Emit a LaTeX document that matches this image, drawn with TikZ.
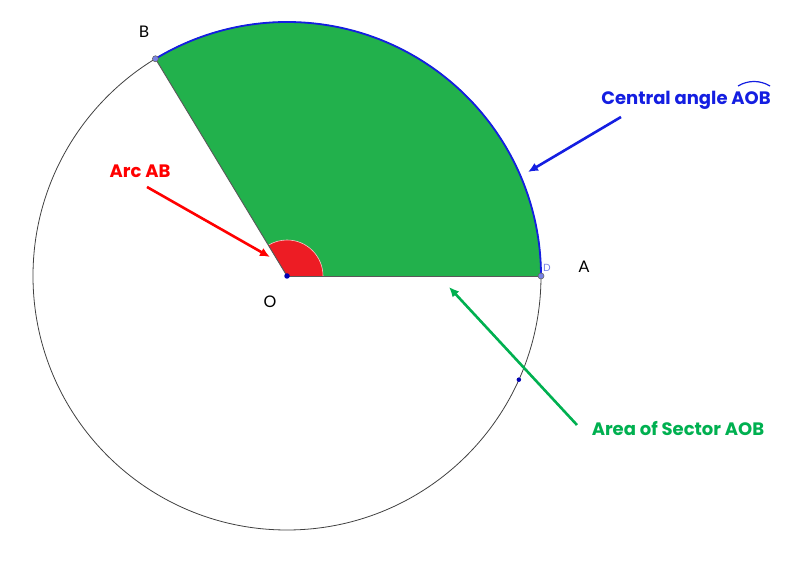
\documentclass[tikz,border=0pt]{standalone}
\usepackage{fontspec}
\setmainfont{Lato}
\newfontfamily\calloutfont{Poppins}
\usetikzlibrary{arrows.meta}

\definecolor{sectorgreen}{RGB}{34,177,76}
\definecolor{anglered}{RGB}{237,28,36}
\definecolor{arcblue}{RGB}{20,30,225}
\definecolor{textgreen}{RGB}{0,176,80}
\definecolor{ptblue}{RGB}{120,130,230}

\tikzset{
  rim/.style={draw=black!75, line width=0.8pt},
  radius line/.style={draw=black!65, line width=0.9pt},
  point/.style={circle, inner sep=0pt, minimum size=6pt, fill=ptblue, draw=black!60, line width=0.6pt},
  centre point/.style={circle, inner sep=0pt, minimum size=5.5pt, fill=blue!70!black},
  ptlabel/.style={font=\fontsize{16}{18}\selectfont},
  callout/.style={font=\calloutfont\bfseries\fontsize{18}{20}\selectfont},
  pointer/.style={line width=2.6pt, -{Latex[length=10pt,width=9pt]}}
}

\begin{document}
\begin{tikzpicture}[x=1pt,y=1pt]
\useasboundingbox (0,0) rectangle (788,562);

\coordinate (O) at (287,286);
\coordinate (A) at ([shift={(0:254)}]O);
\coordinate (B) at ([shift={(121.2:254)}]O);
\coordinate (P) at ([shift={(-24.1:254)}]O);

% sector and angle
\fill[sectorgreen] (O) -- (A) arc[start angle=0, end angle=121.2, radius=254] -- cycle;
\fill[anglered] (O) -- ++(36,0) arc[start angle=0, end angle=121.2, radius=36] -- cycle;
\draw[white!75!anglered, line width=0.6pt] ([shift={(0:36)}]O) arc[start angle=0, end angle=121.2, radius=36];

\draw[rim] (O) circle[radius=254];
\draw[arcblue, line width=1.8pt] (A) arc[start angle=0, end angle=121.2, radius=254];
\draw[radius line] (O) -- (A);
\draw[radius line] (O) -- (B);

\node[point] (ptA) at (A) {};
\node[point] (ptB) at (B) {};
\node[centre point, minimum size=4.5pt] (ptP) at (P) {};
\node[centre point] (ptO) at (O) {};

\node[ptlabel] (labA) at (584,295) {A};
\node[ptlabel] (labB) at (144,530) {B};
\node[ptlabel] (labO) at (270,260) {O};
\node[text=ptblue, font=\fontsize{10}{12}\selectfont, inner sep=0pt] (labD) at (547,294) {D};

% callouts
\node[callout, text=red] (arcAB) at (140,391) {Arc AB};
\node[callout, text=arcblue] (central) at (686,462) {Central angle AOB};
\node[callout, text=textgreen] (area) at (678,133) {Area of Sector AOB};
\draw[arcblue, line width=1.2pt] (738,476) .. controls (748,482) and (760,482) .. (770,476);

\coordinate (arcTail) at (147,375);
\coordinate (arcHead) at (270,305);
\coordinate (centralTail) at (621,445);
\coordinate (centralHead) at (528,390);
\coordinate (areaTail) at (577,137);
\coordinate (areaHead) at (449,275);

\draw[pointer, red] (arcTail) -- (arcHead);
\draw[pointer, arcblue] (centralTail) -- (centralHead);
\draw[pointer, textgreen] (areaTail) -- (areaHead);
\end{tikzpicture}
\end{document}
